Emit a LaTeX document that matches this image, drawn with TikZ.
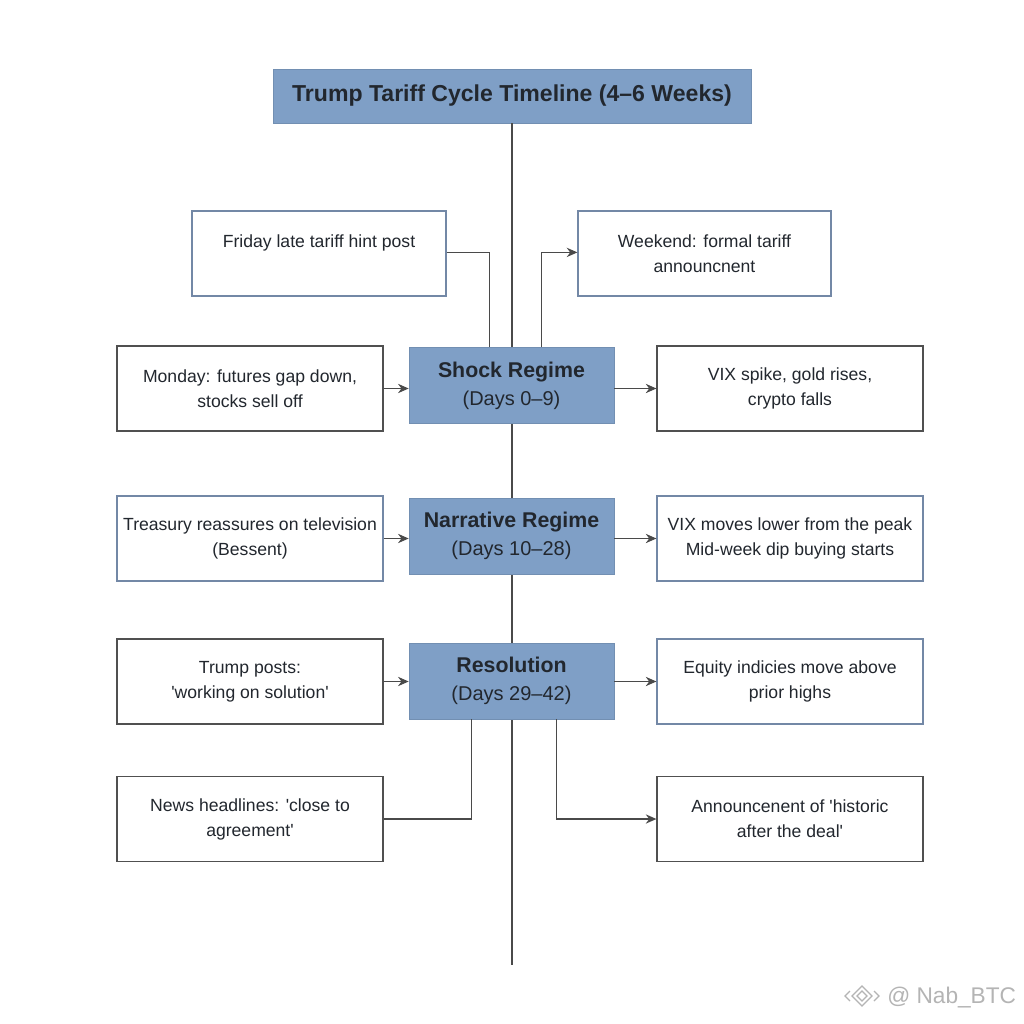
\documentclass[tikz,border=0pt]{standalone}
\usepackage{fontspec}
\setmainfont{Liberation Sans}
\usetikzlibrary{arrows.meta,calc}
\definecolor{regfill}{HTML}{7F9FC6}
\definecolor{txt}{HTML}{22272E}
\definecolor{edgedark}{HTML}{505050}
\definecolor{edgeblue}{HTML}{7388A6}
\definecolor{linec}{HTML}{4A4A4A}
\definecolor{wm}{HTML}{B4B4B4}
\newcommand{\sq}{\textquotesingle}
\begin{document}
\begin{tikzpicture}[x=0.75pt,y=-0.75pt,
  evbox/.style={draw=edgedark,line width=0.9pt,fill=white,minimum width=199.5pt,minimum height=63.75pt,inner sep=0pt,align=center,text=txt,font=\fontsize{13.2}{18.75}\selectfont},
  evblue/.style={evbox,draw=edgeblue},
  regbox/.style={fill=regfill,draw=regfill!90!black,line width=0.5pt,minimum width=153.75pt,minimum height=57pt,inner sep=0pt,align=center,text=txt,font=\fontsize{15}{21}\selectfont},
  conn/.style={draw=linec,line width=0.95pt},
  arr/.style={conn,-{Stealth[length=8pt,width=7pt]}}]
\useasboundingbox (0,0) rectangle (1024,1024);
\fill[white] (0,0) rectangle (1024,1024);
% title
\node[regbox,minimum width=358.5pt,minimum height=40.5pt,font=\bfseries\fontsize{17.3}{20}\selectfont] (title) at (512,96) {\raisebox{-1.5pt}{Trump Tariff Cycle Timeline (4--6 Weeks)}};
\coordinate (lineend) at (512,965);
\draw[conn] (title.south) -- (lineend);
% regime boxes
\node[regbox] (shock) at (511.5,385.5) {{\bfseries\fontsize{16}{21}\selectfont Shock Regime}\\(Days 0--9)};
\node[regbox] (narr) at (511.5,536) {{\bfseries\fontsize{16}{21}\selectfont Narrative Regime}\\(Days 10--28)};
\node[regbox] (reso) at (511.5,681) {{\bfseries\fontsize{16}{21}\selectfont Resolution}\\(Days 29--42)};
% top boxes
\node[evblue,minimum width=190.5pt] (fri) at (319,253.5) {Friday late tariff hint post\\\mbox{}};
\node[evblue,minimum width=189.75pt] (wkd) at (704.5,253.5) {Weekend: formal tariff\\announcnent};
% side boxes
\node[evbox] (mon) at (250,388.5) {Monday: futures gap down,\\stocks sell off};
\node[evbox] (vix) at (790,388.5) {VIX spike, gold rises,\\crypto falls};
\node[evblue] (tre) at (250,538.5) {Treasury reassures on television\\(Bessent)};
\node[evblue] (vixl) at (790,538.5) {VIX moves lower from the peak\\Mid-week dip buying starts};
\node[evbox] (tp) at (250,681.5) {Trump posts:\\\sq working on solution\sq};
\node[evblue] (eq) at (790,681.5) {Equity indicies move above\\prior highs};
\node[evbox] (news) at (250,819) {News headlines: \sq close to\\agreement\sq};
\node[evbox] (ann) at (790,819) {Announcenent of \sq historic\\after the deal\sq};
% connectors top
\draw[conn] ($(fri.north east)+(0,42)$) -| ($(shock.north west)+(81,0)$);
\draw[arr] ($(shock.north west)+(133,0)$) |- ($(wkd.north west)+(0,42)$);
% row arrows
\draw[arr] (mon.east) -- (mon.east -| shock.west);
\draw[arr] (mon.east -| shock.east) -- (vix.west);
\draw[arr] (tre.east) -- (tre.east -| narr.west);
\draw[arr] (tre.east -| narr.east) -- (vixl.west);
\draw[arr] (tp.east) -- (tp.east -| reso.west);
\draw[arr] (tp.east -| reso.east) -- (eq.west);
% bottom connectors
\draw[conn] ($(reso.south west)+(63,0)$) |- (news.east);
\draw[arr] ($(reso.south west)+(148,0)$) |- (ann.west);
% watermark
\begin{scope}[draw=wm,line width=1pt]
\draw (862,986) -- (872,996) -- (862,1006) -- (852,996) -- cycle;
\draw (862,991) -- (867,996) -- (862,1001) -- (857,996) -- cycle;
\draw (850,991) -- (845,996) -- (850,1001);
\draw (874,991) -- (879,996) -- (874,1001);
\end{scope}
\node[text=wm,font=\fontsize{17}{20}\selectfont,anchor=west,inner sep=0pt] (wmtxt) at (887,998) {@ Nab\_BTC};
\end{tikzpicture}
\end{document}
